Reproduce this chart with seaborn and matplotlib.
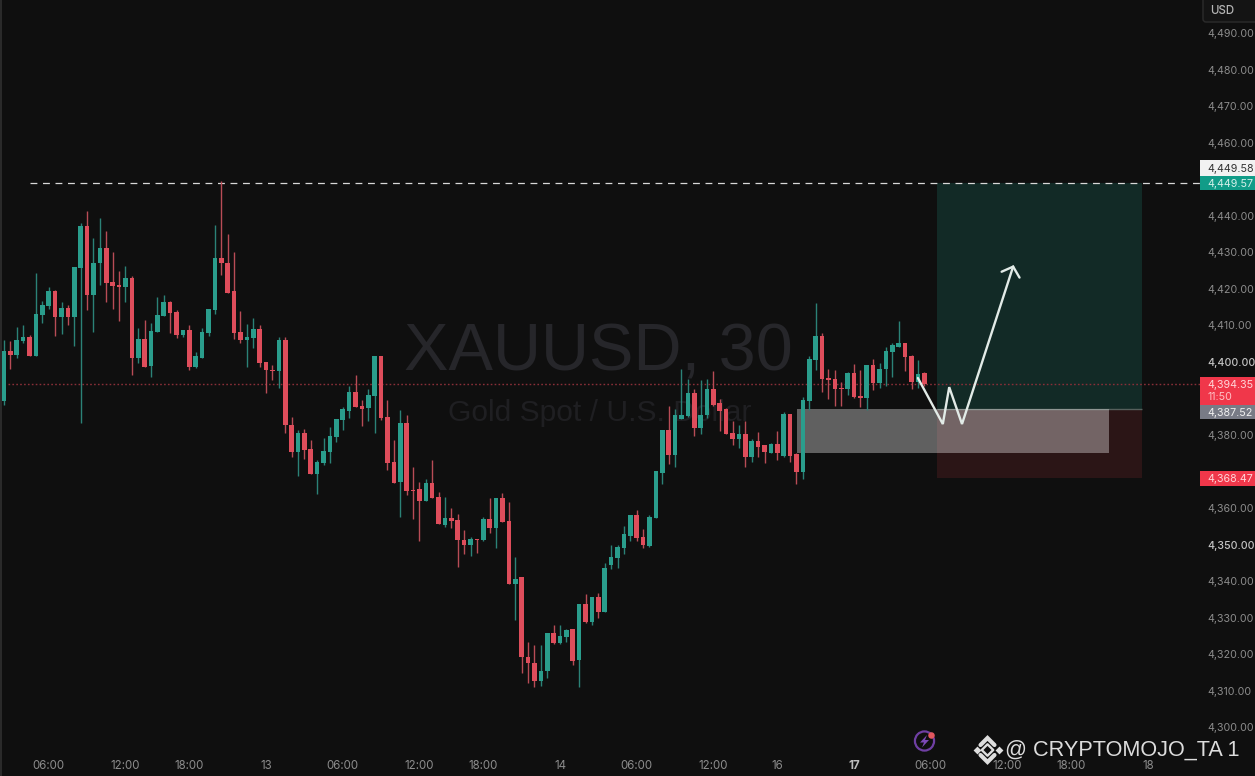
import numpy as np
import pandas as pd
import matplotlib
matplotlib.use("Agg")
import matplotlib.pyplot as plt
from matplotlib.patches import Rectangle, Polygon, FancyBboxPatch
import seaborn as sns

# XAUUSD 30 min candles
highs = [
    4406.0,4405.6,4409.7,4410.1,4407.4,4424.3,4416.8,4420.6,4419.7,4416.5,
    4415.6,4426.1,4438.0,4441.2,4433.9,4439.5,4435.9,4430.0,4425.0,4426.3,
    4423.6,4409.2,4411.5,4410.6,4417.7,4418.4,4416.7,4414.3,4408.8,4410.1,
    4402.6,4409.2,4414.4,4437.4,4449.6,4435.1,4430.0,4414.0,4410.4,4412.0,
    4410.1,4400.1,4399.2,4406.9,4406.9,4385.0,4381.4,4381.6,4378.6,4373.2,
    4379.1,4382.3,4384.4,4387.6,4393.5,4396.4,4389.6,4392.5,4401.6,4401.6,
    4389.6,4378.6,4386.8,4385.5,4371.3,4367.2,4367.9,4373.2,4364.3,4363.1,
    4360.1,4358.5,4354.0,4352.2,4351.4,4357.6,4362.7,4362.8,4364.0,4361.7,
    4346.7,4341.0,4323.4,4322.5,4322.5,4325.9,4328.0,4328.0,4327.0,4326.9,
    4333.6,4336.6,4335.7,4336.8,4344.9,4350.0,4350.0,4355.1,4358.2,4359.5,
    4354.3,4358.0,4370.1,4381.4,4387.9,4387.0,4398.0,4395.2,4392.5,4395.1,
    4395.4,4397.5,4389.8,4387.5,4383.8,4382.7,4383.7,4378.8,4380.8,4377.2,
    4377.7,4381.1,4386.4,4385.7,4375.0,4390.5,4401.6,4416.2,4408.0,4398.0,
    4397.8,4394.6,4397.3,4399.4,4397.8,4399.2,4400.7,4399.8,4404.2,4405.3,
    4411.3,4405.3,4401.9,4400.5,4397.3,
]
lows = [
    4388.2,4398.0,4401.0,4405.1,4401.5,4401.5,4410.6,4414.4,4407.2,4407.7,
    4410.1,4404.4,4383.2,4414.3,4408.1,4421.1,4416.3,4414.5,4411.1,4416.4,
    4396.4,4399.6,4398.7,4396.0,4408.1,4412.7,4407.9,4406.5,4406.7,4397.8,
    4398.4,4401.0,4407.1,4413.1,4423.8,4419.0,4406.2,4405.1,4398.7,4403.9,
    4398.7,4391.6,4395.1,4392.8,4380.5,4374.1,4368.8,4373.3,4369.2,4363.8,
    4371.8,4372.4,4378.2,4381.4,4384.6,4387.6,4382.5,4383.7,4380.5,4384.1,
    4370.4,4366.8,4357.6,4363.6,4357.0,4351.1,4362.0,4362.7,4355.5,4354.7,
    4354.4,4343.8,4347.4,4346.9,4347.6,4351.1,4353.1,4349.0,4356.3,4339.2,
    4329.3,4314.7,4312.2,4311.1,4311.2,4313.4,4322.9,4322.9,4323.4,4317.0,
    4310.9,4328.4,4328.0,4329.8,4331.4,4343.2,4343.7,4347.3,4351.0,4351.0,
    4349.1,4349.4,4357.4,4366.7,4372.0,4371.2,4384.3,4385.0,4379.7,4380.2,
    4384.7,4387.9,4381.1,4380.2,4377.2,4376.5,4371.3,4372.7,4374.1,4372.2,
    4375.0,4373.2,4374.1,4372.7,4366.7,4367.9,4386.8,4397.8,4391.9,4389.8,
    4387.9,4387.9,4390.9,4390.0,4387.7,4386.8,4392.3,4392.8,4393.4,4395.8,
    4404.0,4397.5,4392.5,4393.0,4393.4,
]
opens = [
    4389.4,4403.1,4401.9,4405.8,4406.8,4401.5,4412.9,4415.3,4419.5,4412.4,
    4414.8,4412.4,4425.7,4437.1,4418.3,4427.0,4431.1,4421.9,4421.1,4420.5,
    4422.9,4401.0,4406.3,4398.9,4408.1,4412.7,4416.5,4413.8,4407.4,4408.8,
    4398.7,4401.2,4407.9,4414.1,4428.4,4427.2,4419.3,4408.1,4406.0,4406.5,
    4409.0,4399.9,4397.8,4397.4,4406.0,4382.7,4375.4,4380.6,4376.3,4369.3,
    4372.2,4375.4,4379.4,4384.1,4386.7,4391.9,4387.9,4387.3,4390.7,4401.6,
    4385.0,4372.7,4367.0,4383.4,4364.9,4365.1,4362.0,4366.8,4363.1,4355.3,
    4357.4,4356.7,4351.3,4349.9,4351.4,4351.2,4356.9,4354.4,4362.8,4356.5,
    4339.2,4341.0,4319.3,4317.7,4312.7,4315.4,4325.7,4323.1,4324.8,4326.9,
    4318.4,4333.6,4328.7,4335.7,4331.6,4344.3,4346.4,4349.1,4352.3,4358.2,
    4352.2,4349.6,4357.4,4369.7,4381.3,4374.4,4384.3,4385.2,4391.6,4382.0,
    4385.4,4392.7,4388.7,4387.0,4380.6,4379.0,4380.3,4374.1,4378.4,4377.2,
    4375.2,4377.4,4374.2,4385.7,4374.8,4369.9,4389.4,4400.5,4407.1,4395.5,
    4395.2,4392.8,4392.5,4396.9,4390.7,4390.1,4399.2,4394.1,4398.0,4402.6,
    4404.2,4405.1,4401.7,4394.6,4396.9,
]
closes = [
    4403.1,4401.9,4406.0,4406.8,4401.5,4413.2,4415.6,4419.5,4412.4,4414.8,
    4412.4,4425.9,4437.1,4418.2,4427.2,4431.1,4421.6,4420.9,4420.5,4422.9,
    4401.0,4406.3,4398.7,4408.5,4412.9,4416.5,4413.3,4407.4,4408.8,4398.7,
    4401.5,4408.3,4414.4,4428.4,4427.0,4419.0,4407.9,4405.9,4406.8,4409.0,
    4399.6,4397.8,4397.4,4406.0,4382.6,4375.4,4380.6,4375.9,4369.2,4372.5,
    4375.7,4379.7,4384.4,4387.0,4391.9,4387.6,4387.2,4391.0,4401.6,4384.7,
    4372.2,4366.9,4383.4,4364.8,4364.7,4362.0,4366.8,4362.7,4355.5,4357.4,
    4356.4,4351.2,4349.9,4351.4,4351.2,4357.0,4354.5,4362.8,4356.3,4339.2,
    4340.7,4319.1,4317.6,4312.7,4315.4,4325.9,4323.1,4325.0,4326.6,4318.1,
    4333.6,4328.7,4335.7,4331.4,4343.7,4346.6,4349.4,4352.8,4358.2,4351.7,
    4349.8,4357.6,4370.1,4381.4,4374.4,4385.4,4385.4,4391.6,4382.0,4385.6,
    4392.7,4388.1,4386.6,4380.4,4379.0,4380.3,4374.1,4378.4,4376.8,4375.3,
    4377.4,4375.2,4385.7,4374.2,4369.9,4389.6,4400.7,4407.1,4395.2,4395.0,
    4392.6,4392.5,4396.9,4390.3,4390.0,4399.2,4394.3,4398.2,4403.0,4404.6,
    4405.1,4401.3,4394.5,4396.7,4394.0,
]

# axis labels
time_ticks = [7, 19, 29, 41, 53, 65, 75, 87, 99, 111, 121, 133, 145, 157, 167, 179]
time_labels = ["06:00", "12:00", "18:00", "13", "06:00", "12:00", "18:00", "14",
               "06:00", "12:00", "16", "17", "06:00", "12:00", "18:00", "18"]
price_ticks = [4490, 4480, 4470, 4460, 4440, 4430, 4420, 4410, 4400, 4380,
               4360, 4350, 4340, 4330, 4320, 4310, 4300]

# levels of the long position drawing, as they sit on the picture
target_price = 4449.1
entry_price = 4387.2
stop_price = 4368.2
last_price = 4394.0
zone_low = 4375.2

# hand drawn arrow on the chart (bar number, price)
arrow_x = [143.0, 146.9, 147.9, 149.9, 157.9]
arrow_y = [4395.6, 4383.0, 4393.1, 4383.0, 4426.1]
head_x = [156.1, 157.9, 158.9]
head_y = [4424.7, 4426.1, 4423.1]

BG = "#0f0f0f"
GREEN = "#2a9d8c"
RED = "#de4d5b"
GREEN_WICK = "#2b8277"
RED_WICK = "#b84c56"

sns.set_theme(style="dark", rc={"axes.facecolor": BG, "figure.facecolor": BG})
plt.rcParams["font.family"] = ["Inter", "DejaVu Sans"]

df = pd.DataFrame({"bar": np.arange(len(opens)), "open": opens, "high": highs,
                   "low": lows, "close": closes})
df["lower"] = df[["open", "close"]].min(axis=1)
df["upper"] = df[["open", "close"]].max(axis=1)
up = df[df["close"] >= df["open"]]
down = df[df["close"] < df["open"]]

fig = plt.figure(figsize=(12.55, 7.76), dpi=100)
ax = fig.add_axes([0, 28 / 776, 1200 / 1255, 748 / 776])

# watermark goes first so everything else sits on it
ax.text(0.4985, 0.528, "XAUUSD, 30", transform=ax.transAxes, ha="center", va="center",
        fontsize=48, family="Liberation Sans", color="#26262a", zorder=0)
ax.text(0.4995, 0.448, "Gold Spot / U.S. Dollar", transform=ax.transAxes, ha="center",
        va="center", fontsize=21.6, family="Liberation Sans", color="#1f1f22", zorder=0)

# position tool
ax.add_patch(Rectangle((146.0, entry_price), 32.0, target_price - entry_price,
                       facecolor="#122a26", edgecolor="none", zorder=1))
ax.add_patch(Rectangle((146.0, stop_price), 32.0, entry_price - stop_price,
                       facecolor="#2b1516", edgecolor="none", zorder=1))
ax.hlines(entry_price, 146.0, 178.0, color="#55605c", lw=1, zorder=1.1)
ax.add_patch(Rectangle((124.1, zone_low), 48.8, entry_price - zone_low,
                       facecolor="white", alpha=0.34, edgecolor="none", zorder=1.5))

# price lines
ax.hlines(target_price, 4.1, 188, color="#d8d8d8", lw=0.9, linestyles=(0, (5.5, 4.5)), zorder=2)
ax.hlines(last_price, 0.6, 188, color="#8a2f38", lw=1.0, linestyles=(0, (1.2, 1.6)), zorder=2)

# candles
ax.vlines(up["bar"], up["low"], up["high"], color=GREEN_WICK, lw=1.0, zorder=3)
ax.vlines(down["bar"], down["low"], down["high"], color=RED_WICK, lw=1.0, zorder=3)
sns.barplot(x=up["bar"].values, y=(up["upper"] - up["lower"]).values, bottom=up["lower"].values,
            native_scale=True, width=0.72, color=GREEN, saturation=1, errorbar=None,
            linewidth=0, zorder=4, ax=ax)
sns.barplot(x=down["bar"].values, y=(down["upper"] - down["lower"]).values, bottom=down["lower"].values,
            native_scale=True, width=0.72, color=RED, saturation=1, errorbar=None,
            linewidth=0, zorder=4, ax=ax)

# arrow
ax.plot(arrow_x, arrow_y, color="#e2ebe7", lw=1.7, solid_joinstyle="miter", zorder=5)
ax.plot(head_x, head_y, color="#e2ebe7", lw=1.7, solid_joinstyle="miter", zorder=5)

ax.set_xlim(-0.626, 187.14)
ax.set_ylim(4294.3, 4499.1)
for s in ax.spines.values():
    s.set_visible(False)
ax.grid(False)
ax.set_xlabel("")
ax.set_ylabel("")

ax.set_xticks(time_ticks)
ax.set_xticklabels(time_labels)
ax.tick_params(axis="x", length=0, pad=8.5, labelsize=8.3, labelcolor="#8c8c8c")
for lab in ax.get_xticklabels():
    if lab.get_text() == "17":
        lab.set_fontweight("bold")
        lab.set_color("#bdbdbd")

ax.yaxis.tick_right()
ax.set_yticks(price_ticks)
ax.set_yticklabels([f"{p:,.2f}" for p in price_ticks])
ax.tick_params(axis="y", length=0, pad=5, labelsize=7.7, labelcolor="#8c8c8c")
for lab in ax.get_yticklabels():
    if lab.get_text() in ("4,400.00", "4,350.00"):
        lab.set_fontweight("medium")
        lab.set_color("#c4c4c4")

# overlay in pixels for tags, logo and the like
over = fig.add_axes([0, 0, 1, 1])
over.set_xlim(0, 1255)
over.set_ylim(776, 0)
over.axis("off")
over.patch.set_alpha(0)

# left border of the pane
over.add_patch(Rectangle((0, 0), 2, 776, facecolor="#2a2a2a", edgecolor="none"))

# USD box
over.add_patch(FancyBboxPatch((1203, -6), 60, 28, boxstyle="round,pad=0,rounding_size=3",
                              facecolor="#141414", edgecolor="#2c2c2c", lw=1))
over.text(1210.5, 11, "USD", fontsize=8.3, color="#b5b5b5", va="center", fontweight="medium")

# price tags: top, height, colour, text colour, label
tags = [
    (160, 15.5, "#f2f2f2", "#333333", "4,449.58"),
    (175.5, 14.5, "#119c88", "#d5f0ea", "4,449.57"),
    (405, 14, "#787b86", "#f0f0f0", "4,387.52"),
    (470.7, 15.3, "#f0374a", "#ffd5d8", "4,368.47"),
]
for top, h, col, tcol, label in tags:
    over.add_patch(Rectangle((1199.5, top), 56, h, facecolor=col, edgecolor="none"))
    over.text(1207, top + h / 2, label, fontsize=7.7, color=tcol, va="center_baseline")
over.add_patch(Rectangle((1199.5, 376.7), 56, 28.3, facecolor="#f0374a", edgecolor="none"))
over.text(1207, 384, "4,394.35", fontsize=7.7, color="#ffd5d8", va="center_baseline")
over.text(1207, 396, "11:50", fontsize=7.7, color="#ffc0c5", va="center_baseline")

# lightning badge
over.scatter([924.5], [741], s=190, facecolor="none", edgecolor="#6f3fa3", linewidth=1.6)
over.add_patch(Polygon([(927, 735), (920, 742.5), (924, 742.5), (922, 747.5), (929, 740), (925, 740)],
                       facecolor="#7d49b8", edgecolor="none"))
over.scatter([931], [734.5], s=22, color="#e2575f", linewidth=0)

# binance logo
LOGO = "#dedede"
over.scatter([976.5, 998.5], [750, 750], marker="D", s=16, color=LOGO, linewidth=0)
over.scatter([987.5], [750], marker="D", s=34, facecolor="none", edgecolor=LOGO, linewidth=1.7)
over.plot([980.5, 987.5, 994.5], [745, 738, 745], color=LOGO, lw=3, solid_joinstyle="miter")
over.plot([980.5, 987.5, 994.5], [755, 762, 755], color=LOGO, lw=3, solid_joinstyle="miter")
over.text(1005, 750, "@ CRYPTOMOJO_TA 1", fontsize=15.6, color="#dcdcdc", va="center",
          family="Liberation Sans")

fig.savefig("out.png", dpi=100, facecolor=BG)
